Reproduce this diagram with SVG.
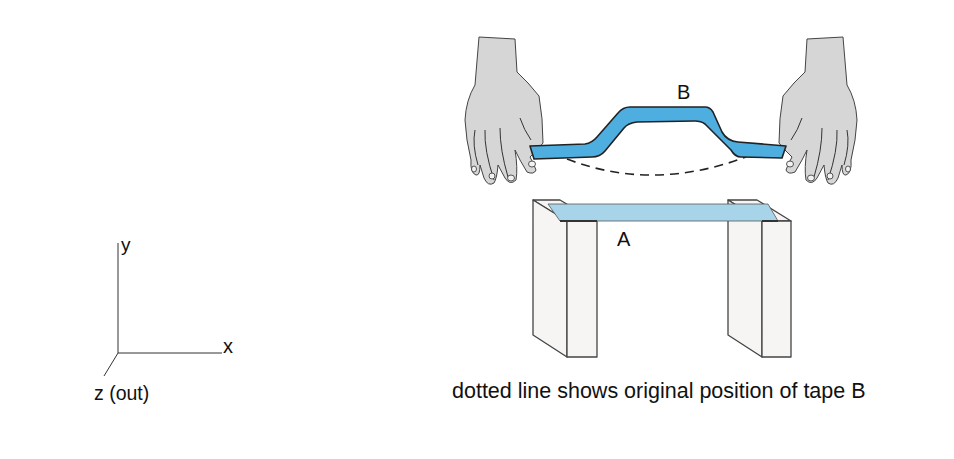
<svg xmlns="http://www.w3.org/2000/svg" width="954" height="459" viewBox="0 0 954 459">
<style>
.t{font-family:"Liberation Sans",Arial,sans-serif;fill:#111}
.ax{stroke:#333;stroke-width:1;fill:none}
.blk{fill:#f6f5f3;stroke:#444;stroke-width:1.3;stroke-linejoin:round}
.hand{fill:#d6d6d6;stroke:#444;stroke-width:1;stroke-linejoin:round}
.nail{fill:#f2f2f2;stroke:#444;stroke-width:0.9}
</style>
<rect width="954" height="459" fill="#fff"/>
<g id="axes">
<path class="ax" d="M118,243 V353 H222 M118,353 L104,376"/>
<text class="t" x="121" y="251" font-size="19">y</text>
<text class="t" x="223" y="353" font-size="20">x</text>
<text class="t" x="94" y="400" font-size="19.5">z (out)</text>
</g>
<g id="stand">
<polygon class="blk" points="533,200 560,200 595,221 567,221"/>
<polygon class="blk" points="533,200 567,221 567,357 533,335"/>
<rect class="blk" x="567" y="221" width="30" height="136"/>
<polygon class="blk" points="728,200 757,200 791,221 762,221"/>
<polygon class="blk" points="728,200 762,221 762,357 728,335"/>
<rect class="blk" x="762" y="221" width="29" height="136"/>
</g>
<g id="tapeA">
<polygon points="548,204 768,204 778,221 560,221" fill="#a8d4ea" stroke="#555" stroke-width="0.8"/>
<line x1="560" y1="221" x2="597" y2="221" stroke="#333" stroke-width="2"/>
<line x1="762" y1="221" x2="778" y2="221" stroke="#333" stroke-width="2"/>
<text class="t" x="617" y="246" font-size="20">A</text>
</g>
<g id="connectors">
<path d="M567,159 Q652,192 746,157" fill="none" stroke="#222" stroke-width="1.6" stroke-dasharray="9,6"/>
</g>
<g id="handL">
<path class="hand" d="M479,37 L515,39 L517,72 Q528,82 539,96 Q543,118 543,143 L537,150 L530,157 Q534,164 536,170 Q534,175 527,172 L520,160 L515,150 Q518,168 516,180 Q510,186 505,178 L498,165 Q497,178 494,183 Q488,187 484,178 L480,165 Q480,176 476,175 Q470,173 471,160 Q466,140 465,120 Q466,100 475,85 Z"/>
<path class="ax" d="M475,130 Q472,145 478,165 M485,130 Q484,150 494,180 M500,128 Q500,150 508,177 M520,118 Q524,130 531,140"/>
<ellipse class="nail" cx="474" cy="169" rx="2.5" ry="3"/>
<ellipse class="nail" cx="492" cy="176" rx="3" ry="3"/>
<ellipse class="nail" cx="511" cy="178" rx="3.5" ry="3"/>
<ellipse class="nail" cx="532" cy="164" rx="3.5" ry="3"/>
</g>
<g id="handR" transform="translate(1322,0) scale(-1,1)">
<path class="hand" d="M479,37 L515,39 L517,72 Q528,82 539,96 Q543,118 543,143 L537,150 L530,157 Q534,164 536,170 Q534,175 527,172 L520,160 L515,150 Q518,168 516,180 Q510,186 505,178 L498,165 Q497,178 494,183 Q488,187 484,178 L480,165 Q480,176 476,175 Q470,173 471,160 Q466,140 465,120 Q466,100 475,85 Z"/>
<path class="ax" d="M475,130 Q472,145 478,165 M485,130 Q484,150 494,180 M500,128 Q500,150 508,177 M520,118 Q524,130 531,140"/>
<ellipse class="nail" cx="474" cy="169" rx="2.5" ry="3"/>
<ellipse class="nail" cx="492" cy="176" rx="3" ry="3"/>
<ellipse class="nail" cx="511" cy="178" rx="3.5" ry="3"/>
<ellipse class="nail" cx="532" cy="164" rx="3.5" ry="3"/>
</g>
<g id="tapeB">
<path d="M530,146 L585,144 Q592,143 597,137 L618,113 Q623,107 630,107 L705,107 Q710,107 713,112 L722,132 Q727,141 738,142 L786,146 L782,158 L741,157 Q735,157 731,150 L705,124 Q701,121 695,121 L637,122 Q628,123 624,128 L605,151 Q600,157 592,157 L534,159 Z" fill="#4eaee0" stroke="#222" stroke-width="1.6" stroke-linejoin="round"/>
<text class="t" x="677" y="99" font-size="20">B</text>
</g>
<text class="t" x="452" y="398" font-size="21.5">dotted line shows original position of tape B</text>
</svg>
